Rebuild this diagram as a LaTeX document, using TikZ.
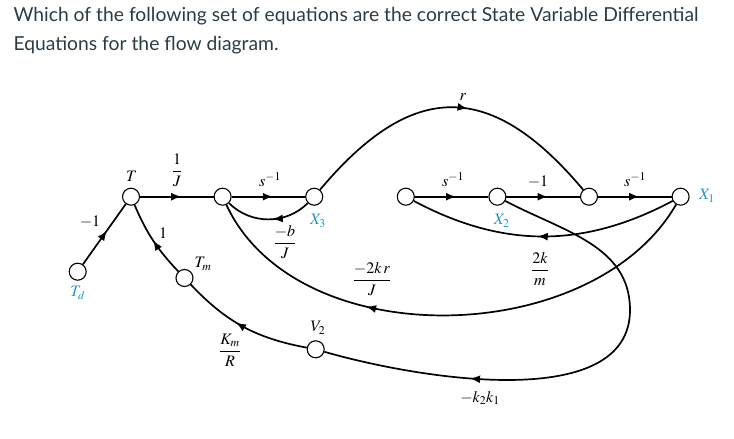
\documentclass[tikz,border=0pt]{standalone}
\usepackage{amsmath}
\usepackage{mathptmx}
\usepackage[no-math]{fontspec}
\newfontfamily\questionfont{Lato}
\usetikzlibrary{arrows.meta, decorations.markings}
\definecolor{statecol}{RGB}{30,150,200}
\definecolor{questioncol}{RGB}{45,59,69}
\tikzstyle{junction} = [circle, draw=black, fill=white, line width=1.1pt, minimum size=17pt, inner sep=0pt]
\tikzstyle{gain} = [font=\fontsize{16}{18}\selectfont, inner sep=1pt]
\tikzstyle{statename} = [gain, text=statecol]
\tikzstyle{question} = [anchor=base west, inner sep=0pt, text=questioncol, font=\questionfont\fontsize{19.3}{22}\selectfont]
\tikzset{branch/.style={line width=1.7pt, postaction={decorate}, decoration={markings, mark=at position #1 with {\arrow{Latex[length=10pt,width=8pt]}}}}}

\begin{document}
\begin{tikzpicture}[x=1pt, y=1pt, node distance=91.6pt]
    \useasboundingbox (0,0) rectangle (734,-439);
    \node (line1) [question] at (13.3,-21.7) {Which of the following set of equations are the correct State Variable Differential};
    \node (line2) [question] at (13.3,-50) {Equations for the flow diagram.};

    % junctions of the flow graph
    \node (T) [junction] at (131,-196.7) {};
    \node (dX3) [junction, right of=T] {};
    \node (X3) [junction, right of=dX3] {};
    \node (dX2) [junction, right of=X3] {};
    \node (X2) [junction, right of=dX2] {};
    \node (dX1) [junction, right of=X2] {};
    \node (X1) [junction, right of=dX1] {};
    \node (Td) [junction] at (77.7,-271.7) {};
    \node (Tm) [junction] at (184.5,-278) {};
    \node (V2) [junction] at (315.7,-349.3) {};
    \coordinate (hook) at (630,-310);

    % names of the signals
    \node (nameT) [gain] at (131.7,-176.7) {$T$};
    \node (nameTd) [statename] at (77.7,-293) {$T_d$};
    \node (nameTm) [gain] at (203,-264) {$T_m$};
    \node (nameV2) [gain] at (318,-328) {$V_2$};
    \node (nameX3) [statename] at (318,-221) {$X_3$};
    \node (nameX2) [statename] at (501.7,-221) {$X_2$};
    \node (nameX1) [statename] at (707,-196) {$X_1$};

    % branch gains
    \node (gainJ) [gain] at (177,-170) {$\dfrac{1}{J}$};
    \node (gainsa) [gain] at (270,-180) {$s^{-1}$};
    \node (gainsb) [gain] at (453,-180) {$s^{-1}$};
    \node (gainsc) [gain] at (635,-180) {$s^{-1}$};
    \node (gainneg) [gain] at (538,-182) {$-1$};
    \node (gaindist) [gain] at (90,-222) {$-1$};
    \node (gainone) [gain] at (163,-233) {$1$};
    \node (gainb) [gain] at (285,-242) {$\dfrac{-b}{J}$};
    \node (gainr) [gain] at (463,-97) {$r$};
    \node (gainkm) [gain] at (540,-269) {$\dfrac{2k}{m}$};
    \node (gainkr) [gain] at (372,-279) {$\dfrac{-2k\,r}{J}$};
    \node (gainKR) [gain] at (230,-350) {$\dfrac{K_m}{R}$};
    \node (gainkk) [gain] at (480,-398) {$-k_2k_1$};

    \draw [branch=0.56] (Td) -- (T);
    \draw [branch=0.56] (T) -- (dX3);
    \draw [branch=0.56] (dX3) -- (X3);
    \draw [branch=0.45] (X3) to[bend left=45] (dX3);
    \draw [branch=0.5] (Tm) to[bend left=10] (T);
    \draw [branch=0.56] (V2) to[bend left=18] (Tm);
    \draw [branch=0.55] (X3) to[out=50, in=130, looseness=1.4] (dX1);
    \draw [branch=0.56] (dX2) -- (X2);
    \draw [branch=0.56] (X2) -- (dX1);
    \draw [branch=0.56] (dX1) -- (X1);
    \draw [branch=0.52] (X1) to[bend left=28] (dX2);
    \draw [branch=0.66] (X1) to[out=-120, in=-65, looseness=0.95] (dX3);
    \draw [branch=0.715] (X2) to[out=-28, in=90] (hook) to[out=-90, in=-16, looseness=0.85] (V2);
\end{tikzpicture}
\end{document}
